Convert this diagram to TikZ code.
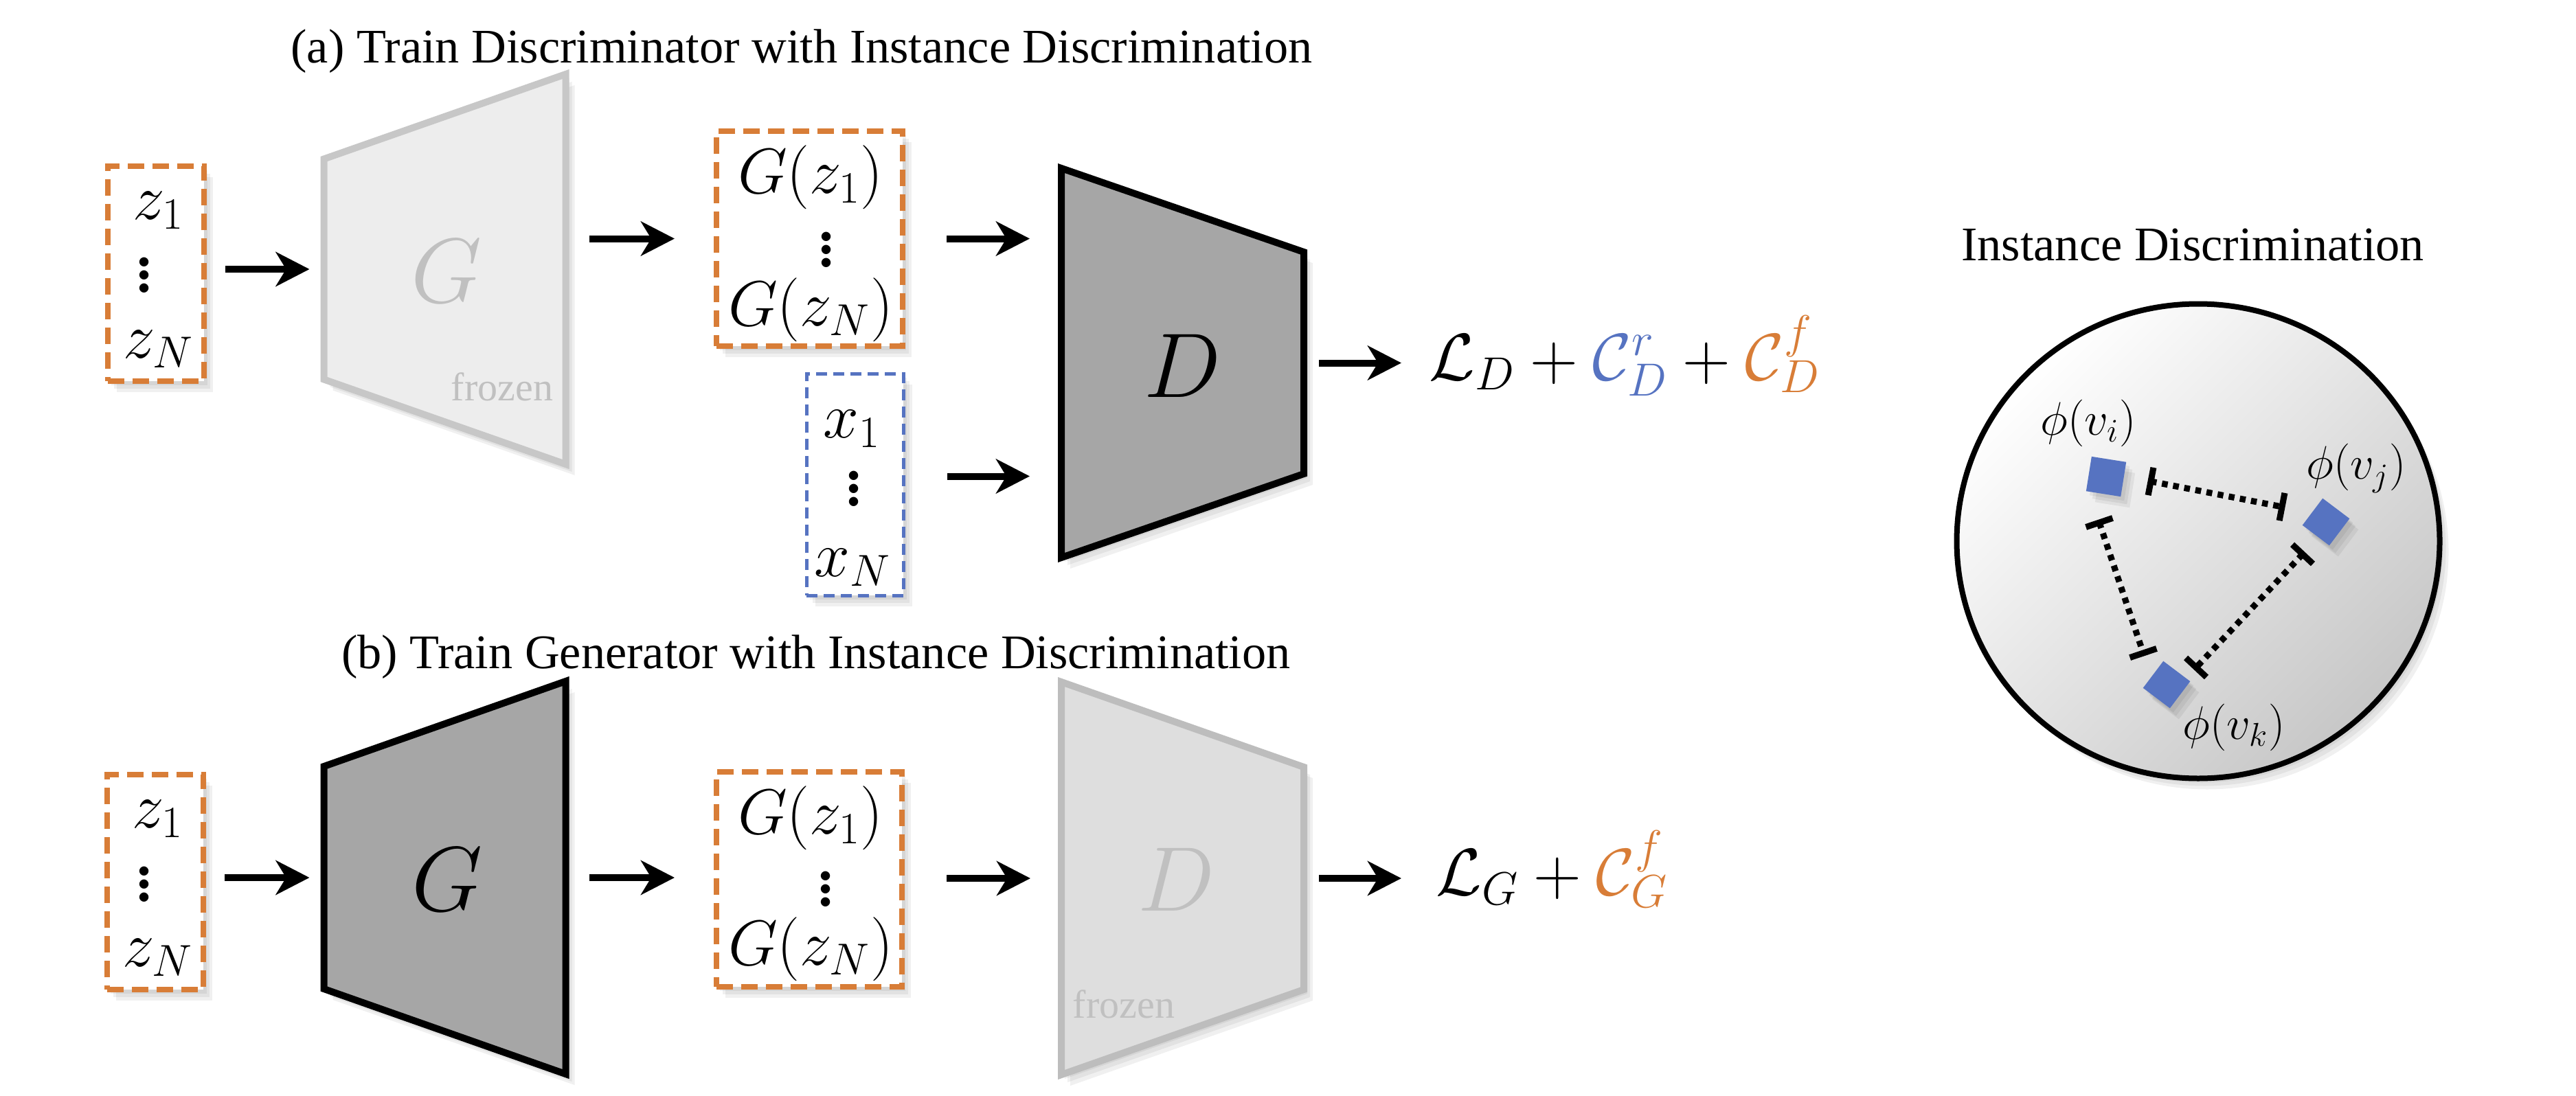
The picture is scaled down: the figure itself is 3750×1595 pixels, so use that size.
\RequirePackage{fix-cm}
\documentclass[tikz,border=0pt]{standalone}
\usepackage{fontspec}
\newfontfamily\tnr{Liberation Serif}
\usetikzlibrary{calc,arrows.meta,shapes.geometric,shadows}
\definecolor{myorange}{RGB}{216,125,55}
\definecolor{myblue}{RGB}{86,115,193}
\definecolor{frz}{RGB}{192,192,192}
\newcommand\vdts{\vbox{\baselineskip=5.4pt\lineskiplimit=0pt\hbox{\bfseries .}\hbox{\bfseries .}\hbox{\bfseries .}}}
\tikzset{
  shd/.style={
    general shadow={fill=black, opacity=0.06, shadow xshift=0.5mm, shadow yshift=-0.6mm},
    general shadow={fill=black, opacity=0.06, shadow xshift=0.9mm, shadow yshift=-1.1mm},
    general shadow={fill=black, opacity=0.06, shadow xshift=1.3mm, shadow yshift=-1.6mm}},
  arr/.style={line width=1mm, -{Stealth[length=4.9mm,width=5mm,inset=1.5mm]}},
  obox/.style={draw=myorange, line width=0.75mm, dash pattern=on 2.4mm off 1.2mm, fill=white, inner sep=0pt, outer sep=0pt, shd},
  bbox/.style={draw=myblue, line width=0.5mm, dash pattern=on 1.6mm off 0.9mm, fill=white, inner sep=0pt, outer sep=0pt, shd},
  trapn/.style={inner sep=0pt, outer sep=0pt, minimum width=35.2mm},
  darktrap/.style={draw=black, line width=1mm, fill=black!35, line join=miter, shd},
  frzG/.style={draw=black!22, line width=1mm, fill=black!7, line join=miter, shd},
  frzD/.style={draw=black!26, line width=1mm, fill=black!13, line join=miter, shd},
  bigltr/.style={font=\fontsize{38}{42}\selectfont, inner sep=0pt},
  bxm/.style={font=\fontsize{26.5}{30}\selectfont, inner sep=0pt},
  fml/.style={font=\fontsize{27.5}{30}\selectfont, inner sep=0pt, anchor=base west},
  ttl/.style={font=\tnr\fontsize{20}{24}\selectfont, inner sep=0pt, anchor=base},
  frztxt/.style={font=\tnr\fontsize{16.5}{18}\selectfont, text=frz, inner sep=0pt},
  phil/.style={font=\fontsize{19.5}{22}\selectfont, inner sep=0pt},
  sqr/.style={fill=myblue, minimum size=5.1mm, inner sep=0pt, outer sep=0pt, shd},
  dotl/.style={line width=0.9mm, dash pattern=on 0.85mm off 0.8mm},
  barl/.style={line width=0.9mm},
}
\begin{document}
\begin{tikzpicture}[x=0.1mm,y=-0.1mm]
\useasboundingbox (0,0) rectangle (3750,1595);

% ---------- titles ----------
\node[ttl] (ta) at (1167,92) {(a) Train Discriminator with Instance Discrimination};
\node[ttl] (tb) at (1188,973) {(b) Train Generator with Instance Discrimination};
\node[ttl] (tid) at (3192,379) {Instance Discrimination};

% ---------- (a) row ----------
\node[obox, minimum width=14mm, minimum height=31.3mm] (zA) at (227,398.5) {};
\node[bxm] (zA1) at (231,306) {$z_1$};
\node[bxm] (zAd) at (210,401) {\vdts};
\node[bxm] (zAN) at (231,508) {$z_N$};

\node[trapn, minimum height=56.8mm] (GA) at (647.5,392) {};
\draw[frzG] ($(GA.west)+(0,16.05mm)$) -- (GA.north east) -- (GA.south east) -- ($(GA.west)+(0,-16.05mm)$) -- cycle;
\node[bigltr, text=frz] (GAl) at (650,395) {$G$};
\node[frztxt] (GAf) at (731,563) {frozen};

\node[obox, minimum width=27.1mm, minimum height=31.3mm] (GzA) at (1178.5,347.5) {};
\node[bxm] (GzA1) at (1180,258) {$G(z_1)$};
\node[bxm] (GzAd) at (1203,364) {\vdts};
\node[bxm] (GzAN) at (1180,451) {$G(z_N)$};

\node[bbox, minimum width=14.1mm, minimum height=32.3mm] (xA) at (1244.5,705.5) {};
\node[bxm] (xA1) at (1240,624) {$x_1$};
\node[bxm] (xAd) at (1243,712) {\vdts};
\node[bxm] (xAN) at (1241,826) {$x_N$};

\node[trapn, minimum width=35.3mm, minimum height=56.7mm] (DA) at (1721.5,528.5) {};
\draw[darktrap] (DA.north west) -- ($(DA.east)+(0,16.15mm)$) -- ($(DA.east)+(0,-16.15mm)$) -- (DA.south west) -- cycle;
\node[bigltr] (DAl) at (1722,533) {$D$};

\node[fml] (LA) at (2080,553) {$\mathcal{L}_D+{\color{myblue}\mathcal{C}_D^r}+{\color{myorange}\mathcal{C}_D^f}$};

\draw[arr, shorten <=3.1mm, shorten >=2.1mm] (zA.east |- GA.west) -- (GA.west);
\draw[arr, shorten <=3.4mm, shorten >=6.1mm] (GA.east |- GzA.west) -- (GzA.west);
\draw[arr, shorten <=6.4mm, shorten >=4.6mm] (GzA.east) -- (GzA.east -| DA.west);
\draw[arr, shorten <=6.4mm, shorten >=4.6mm] ([yshift=1.2mm]xA.east) -- ([yshift=1.2mm]xA.east -| DA.west);
\draw[arr, shorten <=2.2mm, shorten >=4mm] (DA.east) -- (DA.east -| LA.west);

% ---------- (b) row ----------
\node[obox, minimum width=14mm, minimum height=31.3mm] (zB) at (226,1284.5) {};
\node[bxm] (zB1) at (230,1192) {$z_1$};
\node[bxm] (zBd) at (210,1288) {\vdts};
\node[bxm] (zBN) at (230,1394) {$z_N$};

\node[trapn, minimum height=57.2mm] (GB) at (647.5,1278) {};
\draw[darktrap] ($(GB.west)+(0,16.2mm)$) -- (GB.north east) -- (GB.south east) -- ($(GB.west)+(0,-16.2mm)$) -- cycle;
\node[bigltr] (GBl) at (651,1281) {$G$};

\node[obox, minimum width=27mm, minimum height=31.3mm] (GzB) at (1178,1280.5) {};
\node[bxm] (GzB1) at (1180,1191) {$G(z_1)$};
\node[bxm] (GzBd) at (1202,1295) {\vdts};
\node[bxm] (GzBN) at (1180,1382) {$G(z_N)$};

\node[trapn, minimum width=35.3mm, minimum height=57.2mm] (DB) at (1721.5,1279) {};
\draw[frzD] (DB.north west) -- ($(DB.east)+(0,16.2mm)$) -- ($(DB.east)+(0,-16.2mm)$) -- (DB.south west) -- cycle;
\node[bigltr, text=frz] (DBl) at (1713,1281) {$D$};
\node[frztxt] (DBf) at (1636,1462) {frozen};

\node[fml] (LB) at (2090,1303) {$\mathcal{L}_G+{\color{myorange}\mathcal{C}_G^f}$};

\draw[arr, shorten <=3.1mm, shorten >=2.1mm] (zB.east |- GB.west) -- (GB.west);
\draw[arr, shorten <=3.4mm, shorten >=6.1mm] (GB.east) -- (GB.east -| GzB.west);
\draw[arr, shorten <=6.5mm, shorten >=4.5mm] (GzB.east |- DB.west) -- (DB.west);
\draw[arr, shorten <=2.2mm, shorten >=5mm] (DB.east) -- (DB.east -| LB.west);

% ---------- instance discrimination ----------
\node[ellipse, draw, line width=0.8mm, minimum width=70.3mm, minimum height=69.1mm,
      top color=white, bottom color=black!22, shading angle=45, shd] (sph) at (3200,788) {};

\node[sqr, rotate=-9] (vi) at (3066,694) {};
\node[sqr, rotate=-37, minimum size=4.9mm] (vj) at (3386,760) {};
\node[sqr, rotate=-37, minimum size=4.9mm] (vk) at (3154,997) {};

\node[phil] (li) at (3040,616) {$\phi(v_i)$};
\node[phil] (lj) at (3430,682) {$\phi(v_j)$};
\node[phil] (lk) at (3252,1059) {$\phi(v_k)$};

\coordinate (ij1) at (3131,701); \coordinate (ij2) at (3322,738);
\coordinate (ik1) at (3056,761); \coordinate (ik2) at (3120,951);
\coordinate (jk1) at (3352,807); \coordinate (jk2) at (3197,972);

\draw[dotl] (ij1) -- (ij2);
\draw[dotl] (ik1) -- (ik2);
\draw[dotl] (jk1) -- (jk2);

\draw[barl] ($(ij1)!2.05mm!90:(ij2)$) -- ($(ij1)!2.05mm!-90:(ij2)$);
\draw[barl] ($(ij2)!2.05mm!90:(ij1)$) -- ($(ij2)!2.05mm!-90:(ij1)$);
\draw[barl] ($(ik1)!2.05mm!90:(ik2)$) -- ($(ik1)!2.05mm!-90:(ik2)$);
\draw[barl] ($(ik2)!2.05mm!90:(ik1)$) -- ($(ik2)!2.05mm!-90:(ik1)$);
\draw[barl] ($(jk1)!2.05mm!90:(jk2)$) -- ($(jk1)!2.05mm!-90:(jk2)$);
\draw[barl] ($(jk2)!2.05mm!90:(jk1)$) -- ($(jk2)!2.05mm!-90:(jk1)$);
\end{tikzpicture}
\end{document}
